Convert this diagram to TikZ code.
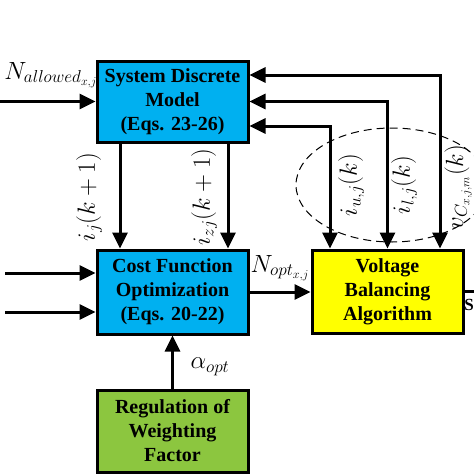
\documentclass[tikz,border=0pt]{standalone}
\usepackage{fontspec}
\setmainfont{Liberation Serif}
\usetikzlibrary{arrows.meta}
\definecolor{boxblue}{HTML}{00B0F0}
\definecolor{boxyellow}{HTML}{FFFF00}
\definecolor{boxgreen}{HTML}{8CC63F}
\begin{document}
\begin{tikzpicture}[x=1pt,y=-1pt,
  blk/.style={draw=black, line width=3pt, minimum width=151pt, align=center,
    font=\fontsize{20}{24}\selectfont\bfseries, inner sep=0pt},
  conn/.style={line width=3pt, -{Triangle[length=16pt,width=15pt]}},
  biconn/.style={line width=3pt, {Triangle[length=16pt,width=15pt]}-{Triangle[length=16pt,width=15pt]}},
  lbl/.style={font=\fontsize{23.5}{28}\selectfont, inner sep=0pt}]
\useasboundingbox (0,0) rectangle (474,474);
% dashed ellipse
\draw[line width=1pt, dash pattern=on 8pt off 5pt] (392,185) ellipse [x radius=96, y radius=57];
% blocks
\node[blk, fill=boxblue, minimum height=81pt] (sdm) at (172.5,101.5) {System Discrete\\Model\\(Eqs. 23-26)};
\node[blk, fill=boxblue, minimum height=84pt] (cfo) at (172.5,292) {Cost Function\\Optimization\\(Eqs. 20-22)};
\node[blk, fill=boxyellow, minimum height=83pt] (vba) at (387.5,291.5) {Voltage\\Balancing\\Algorithm};
\node[blk, fill=boxgreen, minimum height=82pt] (reg) at (172.5,431) {Regulation of\\Weighting\\Factor};
% free ends
\coordinate (inN) at (0,101.5);
\coordinate (in1) at (5,273);
\coordinate (in2) at (5,312);
\coordinate (out) at (480,291.5);
% connectors
\draw[conn] (inN) -- (sdm.west);
\draw[conn] (in1) -- (in1 -| cfo.west);
\draw[conn] (in2) -- (in2 -| cfo.west);
\draw[conn] ([xshift=-52.5pt]sdm.south) -- ([xshift=-52.5pt]cfo.north);
\draw[conn] ([xshift=55.5pt]sdm.south) -- ([xshift=55.5pt]cfo.north);
\draw[conn] (cfo.east) -- (cfo.east -| vba.west);
\draw[conn] (reg.north) -- (cfo.south);
\draw[line width=3pt] (vba.east) -- (out);
\draw[biconn] ([yshift=26.5pt]sdm.east) -| ([xshift=52.5pt]vba.north);
\draw[biconn] (sdm.east) -| (vba.north);
\draw[biconn] ([yshift=-24.5pt]sdm.east) -| ([xshift=-57.5pt]vba.north);
% labels
\node[lbl] (lN) at (51,75) {$N_{allowed_{x,j}}$};
\node[lbl, rotate=90] (lij) at (89,197) {$i_{j}(k+1)$};
\node[lbl, rotate=90] (lizj) at (204,197) {$i_{zj}(k+1)$};
\node[lbl] (lNopt) at (280,268) {$N_{opt_{x,j}}$};
\node[lbl] (lalpha) at (210,367) {$\alpha_{opt}$};
\node[lbl, rotate=90] (liu) at (351,185) {$i_{u,j}(k)$};
\node[lbl, rotate=90] (lil) at (404,185) {$i_{l,j}(k)$};
\node[lbl, rotate=90, anchor=south] (lvc) at (472,187) {$v_{C_{x,j,m}}(k)$};
\node[font=\fontsize{17}{20}\selectfont\bfseries, inner sep=0pt, anchor=east] (s) at (474,305) {S};
\end{tikzpicture}
\end{document}
